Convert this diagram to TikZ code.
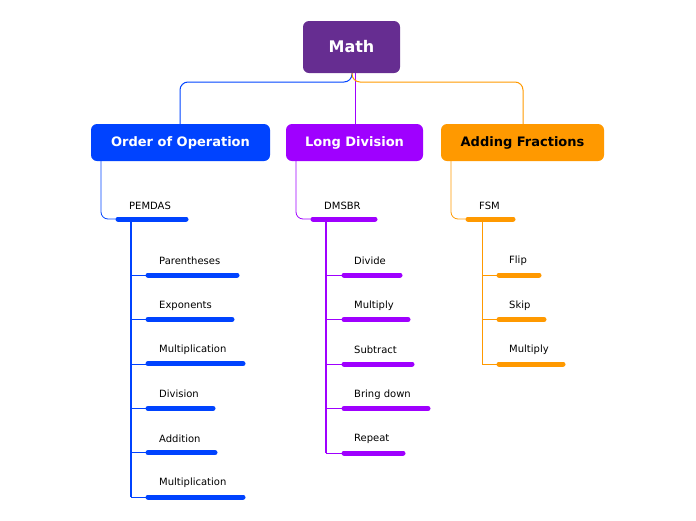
\documentclass[tikz,border=0pt]{standalone}
\usepackage{fontspec}
\setmainfont{DejaVu Sans}
\definecolor{cb}{HTML}{0043FF}
\definecolor{cp}{HTML}{9F00FF}
\definecolor{co}{HTML}{FF9900}
\definecolor{cm}{HTML}{662D91}
\begin{document}
\begin{tikzpicture}[x=1pt,y=-1pt,
  box/.style={rounded corners=6pt,inner sep=0pt,font=\fontsize{13}{15}\selectfont\bfseries},
  lab/.style={anchor=west,inner sep=0pt,font=\fontsize{10}{12}\selectfont},
  bar/.style={line width=5pt,line cap=round},
  conn/.style={line width=1pt,rounded corners=8pt}]
\useasboundingbox (0,0) rectangle (696,520);
\node[box,fill=cm,text=white,minimum width=97pt,minimum height=52pt,font=\fontsize{16}{18}\selectfont\bfseries] (math) at (351.5,47) {Math};
\node[box,fill=cb,text=white,minimum width=179pt,minimum height=37pt] (oo) at (180.5,142.5) {Order of Operation};
\node[box,fill=cp,text=white,minimum width=137pt,minimum height=37pt] (ld) at (354.5,142.5) {Long Division};
\node[box,fill=co,text=black,minimum width=163pt,minimum height=37pt] (af) at (522.5,142.5) {Adding Fractions};
\coordinate (mb) at (352,73);
\draw[conn,cb] (mb) |- (180,82) -- (oo.north-|180,0);
\draw[conn,cp] (mb) ++(3,0) coordinate (mp) -- (mp|-ld.north);
\draw[conn,co] (mb) |- (523,82) -- (af.north-|523,0);
% headers
\node[lab] (pem) at (129,206) {PEMDAS};
\node[lab] (dms) at (324,206) {DMSBR};
\node[lab] (fsm) at (479,206) {FSM};
\coordinate (pa) at (118,219); \coordinate (pb) at (186,219);
\coordinate (da) at (313,219); \coordinate (db) at (375,219);
\coordinate (fa) at (468,219); \coordinate (fb) at (513,219);
\draw[cb,line width=0.8pt,rounded corners=7pt] (oo.south-|101,0) |- (pa);
\draw[cp,line width=0.8pt,rounded corners=7pt] (ld.south-|296,0) |- (da);
\draw[co,line width=0.8pt,rounded corners=7pt] (af.south-|451,0) |- (fa);
\draw[bar,cb] (pa)--(pb); \draw[bar,cp] (da)--(db); \draw[bar,co] (fa)--(fb);
% blue items
\foreach \t/\w/\i [count=\k] in {Parentheses/237/b1,Exponents/232/b2,Multiplication/243/b3,Division/213/b4,Addition/215/b5,Multiplication/243/b6}{
  \pgfmathsetmacro{\yy}{275+44.4*(\k-1)}
  \node[lab] (\i) at (159,\yy-14) {\t};
  \coordinate (\i s) at (148,\yy); \coordinate (\i e) at (\w,\yy);
  \draw[cb,line width=0.6pt] (131,\yy) -- (\i s);
  \draw[bar,cb] (\i s)--(\i e);
}
\draw[cb,line width=1.2pt] (131,219) -- (131,497);
% purple items
\foreach \t/\w/\i [count=\k] in {Divide/400/p1,Multiply/408/p2,Subtract/412/p3,Bring down/428/p4,Repeat/403/p5}{
  \pgfmathsetmacro{\yy}{275+44.5*(\k-1)}
  \node[lab] (\i) at (354,\yy-14) {\t};
  \coordinate (\i s) at (344,\yy); \coordinate (\i e) at (\w,\yy);
  \draw[cp,line width=0.6pt] (326,\yy) -- (\i s);
  \draw[bar,cp] (\i s)--(\i e);
}
\draw[cp,line width=1.2pt] (326,219) -- (326,453);
% orange items
\foreach \t/\w/\i [count=\k] in {Flip/539/o1,Skip/544/o2,Multiply/563/o3}{
  \pgfmathsetmacro{\yy}{275+44.5*(\k-1)}
  \node[lab] (\i) at (509,\yy-14) {\t};
  \coordinate (\i s) at (499,\yy); \coordinate (\i e) at (\w,\yy);
  \draw[co,line width=0.6pt] (482,\yy) -- (\i s);
  \draw[bar,co] (\i s)--(\i e);
}
\draw[co,line width=0.8pt] (482,219) -- (482,364);
\end{tikzpicture}
\end{document}
